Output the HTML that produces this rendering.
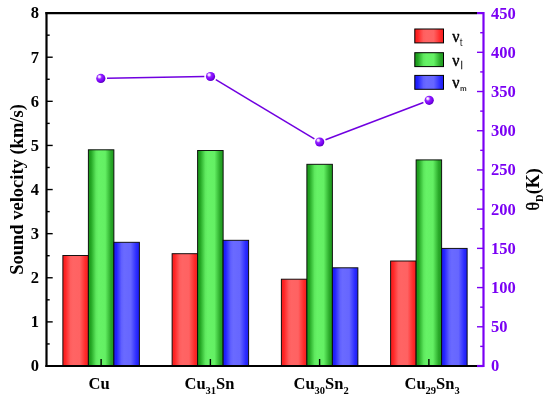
<!DOCTYPE html><html><head><meta charset="utf-8"><style>html,body{margin:0;padding:0;background:#fff;}svg{display:block;}text{font-family:"Liberation Serif","Times New Roman",serif;}</style></head><body>
<svg width="550" height="405" viewBox="0 0 550 405">
<defs>
<linearGradient id="gr" x1="0" y1="0" x2="1" y2="0"><stop offset="0" stop-color="#f41e1e"/><stop offset="0.1" stop-color="#ff2424"/><stop offset="0.3" stop-color="#ff5e5e"/><stop offset="0.4" stop-color="#ff6464"/><stop offset="0.66" stop-color="#ff6262"/><stop offset="0.88" stop-color="#ff2a2a"/><stop offset="1" stop-color="#f01e1e"/></linearGradient>
<linearGradient id="gg" x1="0" y1="0" x2="1" y2="0"><stop offset="0" stop-color="#1a961a"/><stop offset="0.1" stop-color="#22a422"/><stop offset="0.3" stop-color="#5ee85e"/><stop offset="0.4" stop-color="#66f266"/><stop offset="0.66" stop-color="#64f064"/><stop offset="0.88" stop-color="#2aaa2a"/><stop offset="1" stop-color="#1e981e"/></linearGradient>
<linearGradient id="gb" x1="0" y1="0" x2="1" y2="0"><stop offset="0" stop-color="#1c1cf4"/><stop offset="0.1" stop-color="#2222ff"/><stop offset="0.3" stop-color="#6060ff"/><stop offset="0.4" stop-color="#6a6aff"/><stop offset="0.66" stop-color="#6666ff"/><stop offset="0.88" stop-color="#2c2cff"/><stop offset="1" stop-color="#1c1cf0"/></linearGradient>
<radialGradient id="sph" cx="0.4" cy="0.38" r="0.62" fx="0.33" fy="0.3"><stop offset="0" stop-color="#ffffff"/><stop offset="0.18" stop-color="#ecd0ff"/><stop offset="0.4" stop-color="#9226ff"/><stop offset="0.75" stop-color="#7c00f8"/><stop offset="1" stop-color="#5a00c0"/></radialGradient>
</defs>
<rect width="550" height="405" fill="#fff"/>
<rect x="62.88" y="255.50" width="25.50" height="110.50" fill="url(#gr)" stroke="#0a0a0a" stroke-width="0.95"/>
<rect x="88.38" y="149.80" width="25.50" height="216.20" fill="url(#gg)" stroke="#0a0a0a" stroke-width="0.95"/>
<rect x="113.88" y="242.30" width="25.50" height="123.70" fill="url(#gb)" stroke="#0a0a0a" stroke-width="0.95"/>
<rect x="172.12" y="253.70" width="25.50" height="112.30" fill="url(#gr)" stroke="#0a0a0a" stroke-width="0.95"/>
<rect x="197.62" y="150.50" width="25.50" height="215.50" fill="url(#gg)" stroke="#0a0a0a" stroke-width="0.95"/>
<rect x="223.12" y="240.30" width="25.50" height="125.70" fill="url(#gb)" stroke="#0a0a0a" stroke-width="0.95"/>
<rect x="281.38" y="279.20" width="25.50" height="86.80" fill="url(#gr)" stroke="#0a0a0a" stroke-width="0.95"/>
<rect x="306.88" y="164.30" width="25.50" height="201.70" fill="url(#gg)" stroke="#0a0a0a" stroke-width="0.95"/>
<rect x="332.38" y="267.80" width="25.50" height="98.20" fill="url(#gb)" stroke="#0a0a0a" stroke-width="0.95"/>
<rect x="390.62" y="261.00" width="25.50" height="105.00" fill="url(#gr)" stroke="#0a0a0a" stroke-width="0.95"/>
<rect x="416.12" y="159.90" width="25.50" height="206.10" fill="url(#gg)" stroke="#0a0a0a" stroke-width="0.95"/>
<rect x="441.62" y="248.40" width="25.50" height="117.60" fill="url(#gb)" stroke="#0a0a0a" stroke-width="0.95"/>
<line x1="46.5" y1="366.00" x2="52.70" y2="366.00" stroke="#000" stroke-width="1.4"/>
<text x="39.0" y="371.30" font-size="16.5" font-weight="bold" text-anchor="end">0</text>
<line x1="46.5" y1="321.89" x2="52.70" y2="321.89" stroke="#000" stroke-width="1.4"/>
<text x="39.0" y="327.19" font-size="16.5" font-weight="bold" text-anchor="end">1</text>
<line x1="46.5" y1="277.77" x2="52.70" y2="277.77" stroke="#000" stroke-width="1.4"/>
<text x="39.0" y="283.07" font-size="16.5" font-weight="bold" text-anchor="end">2</text>
<line x1="46.5" y1="233.66" x2="52.70" y2="233.66" stroke="#000" stroke-width="1.4"/>
<text x="39.0" y="238.96" font-size="16.5" font-weight="bold" text-anchor="end">3</text>
<line x1="46.5" y1="189.55" x2="52.70" y2="189.55" stroke="#000" stroke-width="1.4"/>
<text x="39.0" y="194.85" font-size="16.5" font-weight="bold" text-anchor="end">4</text>
<line x1="46.5" y1="145.44" x2="52.70" y2="145.44" stroke="#000" stroke-width="1.4"/>
<text x="39.0" y="150.74" font-size="16.5" font-weight="bold" text-anchor="end">5</text>
<line x1="46.5" y1="101.33" x2="52.70" y2="101.33" stroke="#000" stroke-width="1.4"/>
<text x="39.0" y="106.63" font-size="16.5" font-weight="bold" text-anchor="end">6</text>
<line x1="46.5" y1="57.21" x2="52.70" y2="57.21" stroke="#000" stroke-width="1.4"/>
<text x="39.0" y="62.51" font-size="16.5" font-weight="bold" text-anchor="end">7</text>
<line x1="46.5" y1="13.10" x2="52.70" y2="13.10" stroke="#000" stroke-width="1.4"/>
<text x="39.0" y="18.40" font-size="16.5" font-weight="bold" text-anchor="end">8</text>
<line x1="46.5" y1="343.94" x2="49.70" y2="343.94" stroke="#000" stroke-width="1.4"/>
<line x1="46.5" y1="299.83" x2="49.70" y2="299.83" stroke="#000" stroke-width="1.4"/>
<line x1="46.5" y1="255.72" x2="49.70" y2="255.72" stroke="#000" stroke-width="1.4"/>
<line x1="46.5" y1="211.61" x2="49.70" y2="211.61" stroke="#000" stroke-width="1.4"/>
<line x1="46.5" y1="167.49" x2="49.70" y2="167.49" stroke="#000" stroke-width="1.4"/>
<line x1="46.5" y1="123.38" x2="49.70" y2="123.38" stroke="#000" stroke-width="1.4"/>
<line x1="46.5" y1="79.27" x2="49.70" y2="79.27" stroke="#000" stroke-width="1.4"/>
<line x1="46.5" y1="35.16" x2="49.70" y2="35.16" stroke="#000" stroke-width="1.4"/>
<line x1="483.5" y1="366.00" x2="477.00" y2="366.00" stroke="#7A00F4" stroke-width="1.4"/>
<text x="491" y="371.40" font-size="16.5" font-weight="bold" fill="#7A00F4">0</text>
<line x1="483.5" y1="326.79" x2="477.00" y2="326.79" stroke="#7A00F4" stroke-width="1.4"/>
<text x="491" y="332.19" font-size="16.5" font-weight="bold" fill="#7A00F4">50</text>
<line x1="483.5" y1="287.58" x2="477.00" y2="287.58" stroke="#7A00F4" stroke-width="1.4"/>
<text x="491" y="292.98" font-size="16.5" font-weight="bold" fill="#7A00F4">100</text>
<line x1="483.5" y1="248.37" x2="477.00" y2="248.37" stroke="#7A00F4" stroke-width="1.4"/>
<text x="491" y="253.77" font-size="16.5" font-weight="bold" fill="#7A00F4">150</text>
<line x1="483.5" y1="209.16" x2="477.00" y2="209.16" stroke="#7A00F4" stroke-width="1.4"/>
<text x="491" y="214.56" font-size="16.5" font-weight="bold" fill="#7A00F4">200</text>
<line x1="483.5" y1="169.94" x2="477.00" y2="169.94" stroke="#7A00F4" stroke-width="1.4"/>
<text x="491" y="175.34" font-size="16.5" font-weight="bold" fill="#7A00F4">250</text>
<line x1="483.5" y1="130.73" x2="477.00" y2="130.73" stroke="#7A00F4" stroke-width="1.4"/>
<text x="491" y="136.13" font-size="16.5" font-weight="bold" fill="#7A00F4">300</text>
<line x1="483.5" y1="91.52" x2="477.00" y2="91.52" stroke="#7A00F4" stroke-width="1.4"/>
<text x="491" y="96.92" font-size="16.5" font-weight="bold" fill="#7A00F4">350</text>
<line x1="483.5" y1="52.31" x2="477.00" y2="52.31" stroke="#7A00F4" stroke-width="1.4"/>
<text x="491" y="57.71" font-size="16.5" font-weight="bold" fill="#7A00F4">400</text>
<line x1="483.5" y1="13.10" x2="477.00" y2="13.10" stroke="#7A00F4" stroke-width="1.4"/>
<text x="491" y="18.50" font-size="16.5" font-weight="bold" fill="#7A00F4">450</text>
<line x1="483.5" y1="346.39" x2="480.20" y2="346.39" stroke="#7A00F4" stroke-width="1.4"/>
<line x1="483.5" y1="307.18" x2="480.20" y2="307.18" stroke="#7A00F4" stroke-width="1.4"/>
<line x1="483.5" y1="267.97" x2="480.20" y2="267.97" stroke="#7A00F4" stroke-width="1.4"/>
<line x1="483.5" y1="228.76" x2="480.20" y2="228.76" stroke="#7A00F4" stroke-width="1.4"/>
<line x1="483.5" y1="189.55" x2="480.20" y2="189.55" stroke="#7A00F4" stroke-width="1.4"/>
<line x1="483.5" y1="150.34" x2="480.20" y2="150.34" stroke="#7A00F4" stroke-width="1.4"/>
<line x1="483.5" y1="111.13" x2="480.20" y2="111.13" stroke="#7A00F4" stroke-width="1.4"/>
<line x1="483.5" y1="71.92" x2="480.20" y2="71.92" stroke="#7A00F4" stroke-width="1.4"/>
<line x1="483.5" y1="32.71" x2="480.20" y2="32.71" stroke="#7A00F4" stroke-width="1.4"/>
<line x1="101.12" y1="366.0" x2="101.12" y2="359.00" stroke="#000" stroke-width="1.4"/>
<line x1="210.38" y1="366.0" x2="210.38" y2="359.00" stroke="#000" stroke-width="1.4"/>
<line x1="319.62" y1="366.0" x2="319.62" y2="359.00" stroke="#000" stroke-width="1.4"/>
<line x1="428.88" y1="366.0" x2="428.88" y2="359.00" stroke="#000" stroke-width="1.4"/>
<line x1="45.4" y1="13.1" x2="477.00" y2="13.1" stroke="#000" stroke-width="2.2"/>
<line x1="45.4" y1="366.0" x2="477.00" y2="366.0" stroke="#000" stroke-width="2.2"/>
<line x1="46.5" y1="12.0" x2="46.5" y2="367.1" stroke="#000" stroke-width="2.2"/>
<line x1="483.5" y1="12.0" x2="483.5" y2="367.1" stroke="#7A00F4" stroke-width="2.2"/>
<line x1="477.00" y1="13.1" x2="483.5" y2="13.1" stroke="#7A00F4" stroke-width="2.2"/>
<line x1="477.00" y1="366.0" x2="483.5" y2="366.0" stroke="#7A00F4" stroke-width="2.2"/>
<line x1="107.00" y1="78.29" x2="204.30" y2="76.61" stroke="#7000E0" stroke-width="1.5"/>
<line x1="215.82" y1="79.69" x2="314.38" y2="138.81" stroke="#7000E0" stroke-width="1.5"/>
<line x1="325.49" y1="139.79" x2="423.41" y2="102.51" stroke="#7000E0" stroke-width="1.5"/>
<circle cx="100.8" cy="78.4" r="4.6" fill="url(#sph)"/>
<circle cx="210.5" cy="76.5" r="4.6" fill="url(#sph)"/>
<circle cx="319.7" cy="142.0" r="4.6" fill="url(#sph)"/>
<circle cx="429.2" cy="100.3" r="4.6" fill="url(#sph)"/>
<rect x="414.8" y="29.00" width="28.7" height="13.9" fill="url(#gr)" stroke="#000" stroke-width="1"/>
<text x="452.3" y="41.80" font-size="16" stroke="#000" stroke-width="0.45">ν</text>
<text x="459.7" y="45.70" font-size="10" fill="#333" style="font-family:Liberation Sans,sans-serif">t</text>
<rect x="414.8" y="52.70" width="28.7" height="13.9" fill="url(#gg)" stroke="#000" stroke-width="1"/>
<text x="452.3" y="65.50" font-size="16" stroke="#000" stroke-width="0.45">ν</text>
<text x="460.6" y="68.50" font-size="10" fill="#333" stroke="#333" stroke-width="0.3" style="font-family:Liberation Sans,sans-serif">l</text>
<rect x="414.8" y="75.40" width="28.7" height="13.9" fill="url(#gb)" stroke="#000" stroke-width="1"/>
<text x="452.3" y="88.20" font-size="16" stroke="#000" stroke-width="0.45">ν</text>
<text x="459.9" y="91.10" font-size="7.5" font-weight="bold" fill="#333" style="font-family:Liberation Sans,sans-serif">m</text>
<text x="99.1" y="388.6" font-size="16.5" font-weight="bold" text-anchor="middle">Cu</text>
<text x="209.5" y="388.6" font-size="16.5" font-weight="bold" text-anchor="middle">Cu<tspan font-size="10.5" dy="5">31</tspan><tspan dy="-5">Sn</tspan></text>
<text x="321.1" y="388.6" font-size="16.5" font-weight="bold" text-anchor="middle">Cu<tspan font-size="10.5" dy="5">30</tspan><tspan dy="-5">Sn</tspan><tspan font-size="10.5" dy="5">2</tspan></text>
<text x="432.1" y="388.6" font-size="16.5" font-weight="bold" text-anchor="middle">Cu<tspan font-size="10.5" dy="5">29</tspan><tspan dy="-5">Sn</tspan><tspan font-size="10.5" dy="5">3</tspan></text>
<text transform="translate(23.3,189.5) rotate(-90)" font-size="18.5" font-weight="bold" text-anchor="middle">Sound velocity (km/s)</text>
<text transform="translate(538.6,189.4) rotate(-90)" font-size="18" font-weight="bold" text-anchor="middle"><tspan font-weight="normal" stroke="#000" stroke-width="0.4">θ</tspan><tspan font-size="10.5" dy="4">D</tspan><tspan dy="-4">(K)</tspan></text>
</svg></body></html>
